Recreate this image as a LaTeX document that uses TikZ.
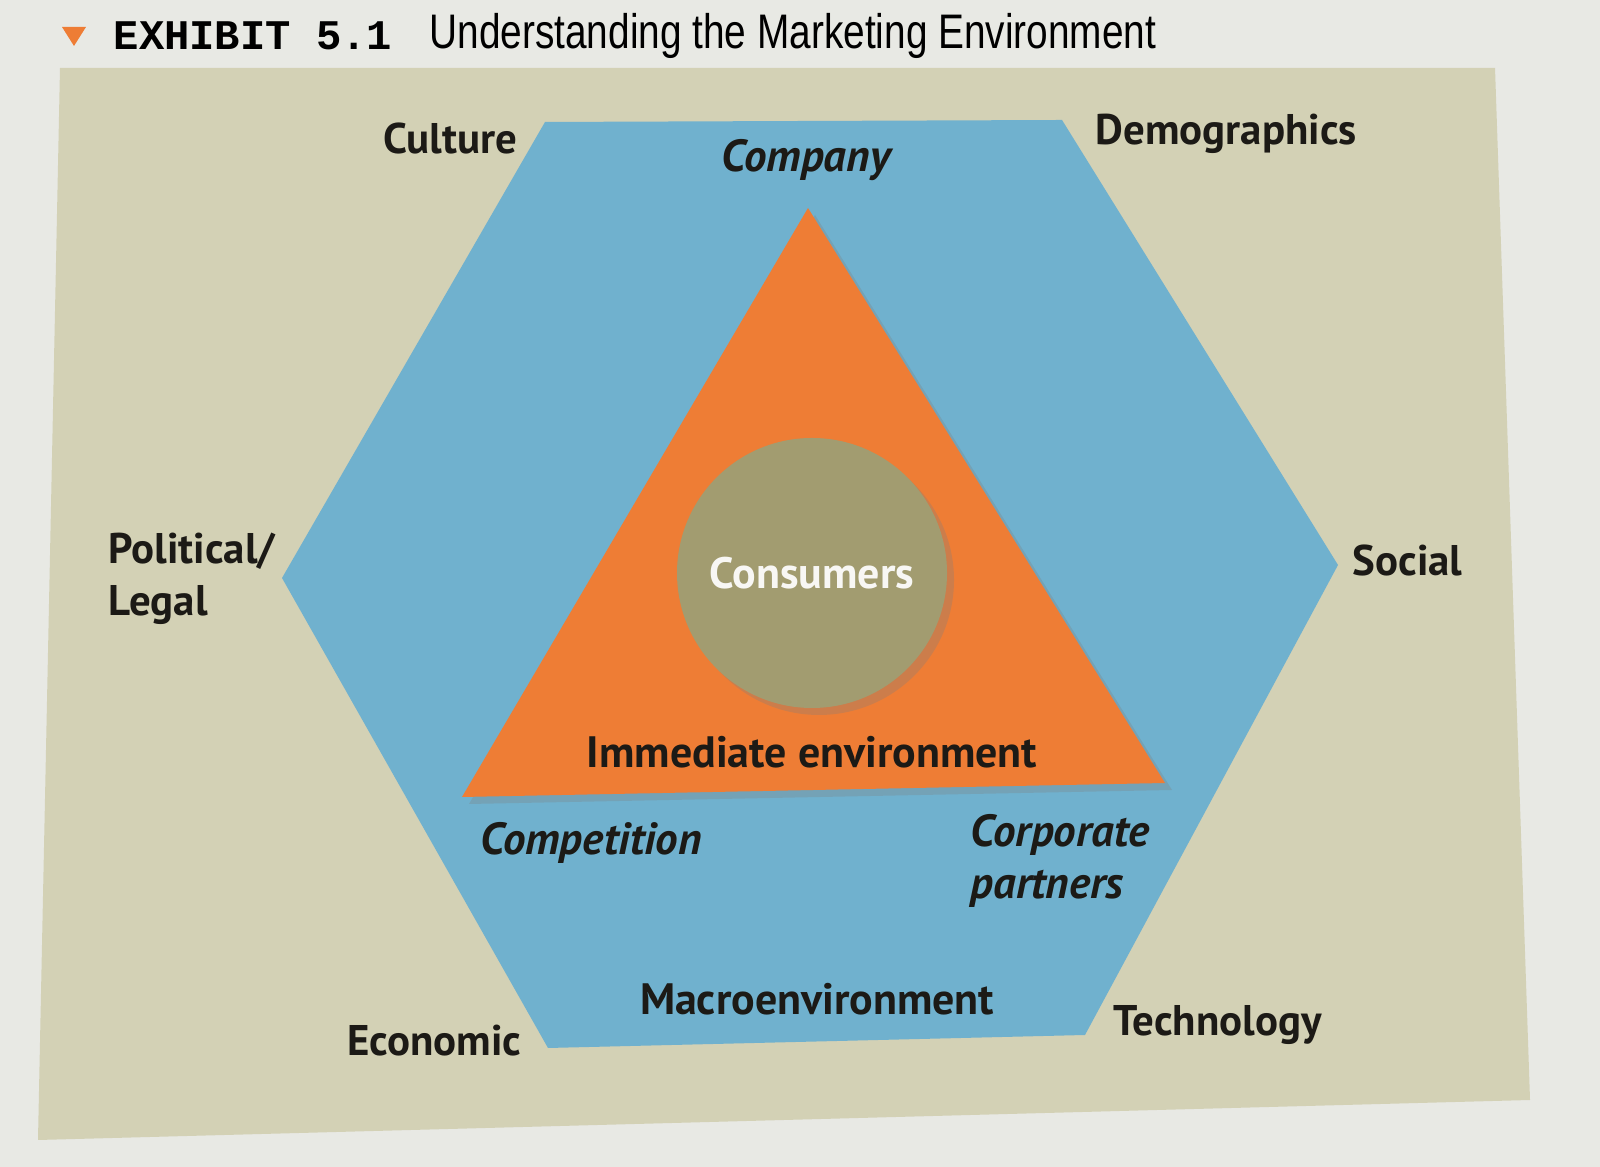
\documentclass[tikz,border=0pt]{standalone}
\usepackage{fontspec}
\setmainfont{PT Sans}
\newfontfamily\exhibitfont{Liberation Mono}
\newfontfamily\titlefont[FakeStretch=0.8]{Liberation Sans}
\usepackage{xcolor}
\usetikzlibrary{positioning,shadows}

\definecolor{pagegray}{HTML}{E8E9E4}
\definecolor{panelbeige}{HTML}{D3D1B5}
\definecolor{macroblue}{HTML}{70B1CE}
\definecolor{immorange}{HTML}{EE7D35}
\definecolor{consolive}{HTML}{A29C70}
\definecolor{inkdark}{HTML}{1C1A16}

\begin{document}
\begin{tikzpicture}[
    outer/.style={font=\fontsize{12.2}{14.8}\selectfont\bfseries, text=inkdark, inner sep=0pt},
    inner/.style={font=\fontsize{12.8}{14.8}\selectfont\bfseries\itshape, text=inkdark, inner sep=0pt},
    level/.style={font=\fontsize{12.5}{14.8}\selectfont\bfseries, text=inkdark, inner sep=0pt},
    softshadow/.style={drop shadow={opacity=0.3, shadow xshift=0.07, shadow yshift=-0.07}}
]
    % page and panel
    \fill[pagegray] (0,0) rectangle (16,11.67);
    \useasboundingbox (0,0) rectangle (16,11.67);
    \fill[panelbeige] (0.60,10.99) -- (14.95,10.99) -- (15.30,0.67) -- (0.38,0.27) -- cycle;

    % title
    \fill[immorange] (0.62,11.40) -- (0.86,11.40) -- (0.74,11.21) -- cycle;
    \node[anchor=west, inner sep=0pt, font=\exhibitfont\fontsize{12}{14}\selectfont\bfseries] (exhibit) at (1.13,11.31) {EXHIBIT 5.1};
    \node[inner sep=0pt, font=\titlefont\fontsize{13.8}{16}\selectfont, right=0.36cm of exhibit] (title) {Understanding the Marketing Environment};

    % macroenvironment hexagon
    \coordinate (hexTL) at (5.45,10.45);
    \coordinate (hexTR) at (10.62,10.47);
    \coordinate (hexR)  at (13.38,6.02);
    \coordinate (hexBR) at (10.85,1.32);
    \coordinate (hexBL) at (5.48,1.19);
    \coordinate (hexL)  at (2.82,5.89);
    \fill[macroblue] (hexTL) -- (hexTR) -- (hexR) -- (hexBR) -- (hexBL) -- (hexL) -- cycle;

    % immediate environment triangle
    \coordinate (triTop) at (8.08,9.59);
    \coordinate (triBL)  at (4.62,3.70);
    \coordinate (triBR)  at (11.65,3.84);
    \path[fill=immorange, softshadow] (triTop) -- (triBR) -- (triBL) -- cycle;

    % consumers
    \node[circle, fill=consolive, minimum size=2.7cm, inner sep=0pt, softshadow,
          font=\fontsize{12.5}{15}\selectfont\bfseries, text=white!92!consolive] (consumers) at (8.12,5.94) {Consumers};

    % level names
    \node[level] (immediate) at (8.12,4.15) {Immediate environment};
    \node[level] (macro) at (8.17,1.68) {Macroenvironment};

    % immediate factors
    \node[inner] (company) at (8.06,10.07) {Company};
    \node[inner] (competition) at (5.91,3.24) {Competition};
    \node[inner, align=left, anchor=west] (partners) at (9.70,3.06) {Corporate\\partners};

    % macro factors
    \node[outer, left=0.27cm of hexTL, yshift=-0.17cm] (culture) {Culture};
    \node[outer, right=0.33cm of hexTR, yshift=-0.14cm] (demographics) {Demographics};
    \node[outer, right=0.14cm of hexR, yshift=0.04cm] (social) {Social};
    \node[outer, align=left, anchor=west] (political) at (1.08,5.88) {Political/\\Legal};
    \node[outer, left=0.26cm of hexBL, yshift=0.07cm] (economic) {Economic};
    \node[outer, right=0.28cm of hexBR, yshift=0.10cm] (technology) {Technology};
\end{tikzpicture}
\end{document}
